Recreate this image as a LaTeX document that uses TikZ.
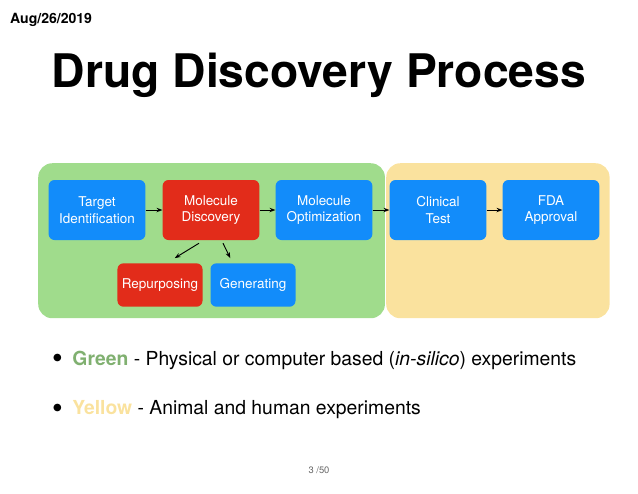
\documentclass[tikz,border=0pt]{standalone}
\usepackage{fontspec}
\setmainfont{TeX Gyre Heros}
\usetikzlibrary{positioning, arrows.meta}
\usetikzlibrary{calc}
\definecolor{boxblue}{RGB}{18,140,250}
\definecolor{boxred}{RGB}{226,44,26}
\definecolor{zonegreen}{RGB}{160,220,140}
\definecolor{zoneyellow}{RGB}{250,226,158}
\newcommand{\bigbullet}{{\fontsize{26}{20}\selectfont\raisebox{-0.12em}{\textbullet}}}
\begin{document}
\begin{tikzpicture}[
          x=0.03cm, y=-0.03cm,
          zone/.style={rectangle, rounded corners=12pt, inner sep=0pt},
          stage/.style={rectangle, rounded corners=5pt, fill=boxblue, text=white, align=center, font=\fontsize{11.5}{14}\selectfont, minimum width=2.9cm, minimum height=1.8cm},
          sub/.style={stage, minimum width=2.55cm, minimum height=1.3cm},
          arrow/.style={-{Stealth[length=5pt]}, thick}
        ]
          \useasboundingbox (0,0) rectangle (638,493);
          % Title
          \node[anchor=west, font=\bfseries\fontsize{12}{14}\selectfont] (date) at (6,20) {Aug/26/2019};
          \node[font=\bfseries\fontsize{39.5}{44}\selectfont] (title) at (319,75) {Drug Discovery Process};

          % Zones
          \node[zone, fill=zonegreen, minimum width=10.4cm, minimum height=4.65cm, anchor=north west] (green) at (38,163) {};
          \node[zone, fill=zoneyellow, minimum width=6.7cm, minimum height=4.65cm, anchor=north west] (yellow) at (386,163) {};

          % Stages
          \node[stage] (target) at (97,210) {Target\\Identification};
          \node[stage, fill=boxred] (disc) at (211,210) {Molecule\\Discovery};
          \node[stage] (opt) at (324,210) {Molecule\\Optimization};
          \node[stage] (clin) at (438,210) {Clinical\\Test};
          \node[stage] (fda) at (551,210) {FDA\\Approval};

          % Sub steps
          \node[sub, fill=boxred] (rep) at (160,285) {Repurposing};
          \node[sub] (gen) at (253,285) {Generating};

          % Arrows
          \draw[arrow] (target) -- (disc);
          \draw[arrow] (disc) -- (opt);
          \draw[arrow] (opt) -- (clin);
          \draw[arrow] (clin) -- (fda);
          \draw[arrow] ($(disc.south)+(-12,3)$) -- ($(rep.north east)+(-28,-5)$);
          \draw[arrow] ($(disc.south)+(12,3)$) -- ($(gen.north west)+(20,-5)$);

          % Bullets
          \node[anchor=west, font=\fontsize{16.5}{20}\selectfont] (b1) at (48,360) {\bigbullet\hspace{0.5em}\textbf{\textcolor{zonegreen!80!black}{Green}} - Physical or computer based (\textit{in-silico}) experiments};
          \node[anchor=west, font=\fontsize{16.5}{20}\selectfont] (b2) at (48,410) {\bigbullet\hspace{0.5em}\textbf{\textcolor{zoneyellow}{Yellow}} - Animal and human experiments};
          \node[font=\fontsize{8}{10}\selectfont, text=black!60] (page) at (319,470) {3 /50};
      \end{tikzpicture}
\end{document}
